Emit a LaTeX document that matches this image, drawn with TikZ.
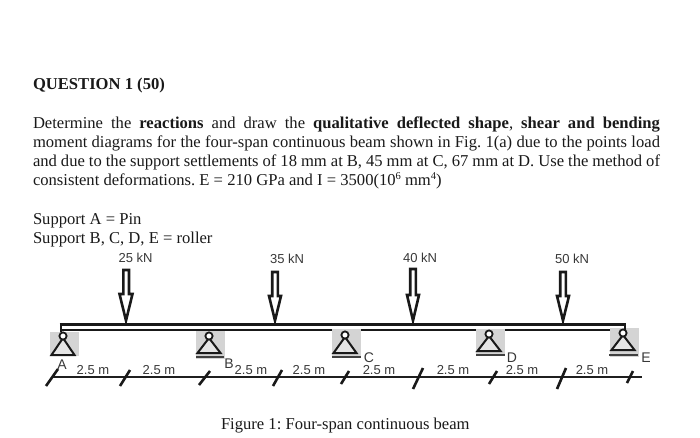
\documentclass[tikz,border=0pt]{standalone}
\usepackage{fontspec}
\setmainfont{Liberation Serif}
\setsansfont{Liberation Sans}
\tikzset{
  txt/.style={anchor=base west,inner sep=0pt,outer sep=0pt,font=\fontsize{16.6}{19}\selectfont\frenchspacing,text=black!90},
  dim/.style={inner sep=0pt,outer sep=0pt,font=\sffamily\fontsize{13}{14}\selectfont,text=black!78},
  letter/.style={inner sep=0pt,outer sep=0pt,font=\sffamily\fontsize{14}{15}\selectfont,text=black!78},
  beamline/.style={line width=3pt,black!90},
  dimline/.style={line width=2.6pt,black!88},
  ticker/.style={line width=2.6pt,black!90},
  loadarrow/.style={draw=black!90,fill=white,line width=2.6pt,line join=miter},
  suppbox/.style={fill=black!17,draw=none},
  supptri/.style={draw=black!90,line width=2pt,fill=black!10,line join=miter},
  supppin/.style={draw=black!90,line width=1.8pt,fill=white},
  suppbase/.style={line width=2pt,black!75},
  pics/support/.style args={#1/#2/#3}{code={
    % origin = pin centre; #1 = triangle base offset, #2 = box bottom offset, #3 = box top offset
    \fill[suppbox] (-13.5,#3) rectangle (15.5,#2);
    \draw[supptri] (0,2) -- (11.5,#1) -- (-11.5,#1) -- cycle;
    \draw[supppin] (0,0) circle (3.6);
  }},
}
\begin{document}
\begin{tikzpicture}[x=1pt,y=-1pt]
\useasboundingbox (0,0) rectangle (700,437);

% text block
\node[txt,font=\fontsize{16.6}{19}\selectfont\bfseries] (title) at (33,89) {QUESTION 1 (50)};
\node[txt] (l1) at (33,128) {\hbox to 627pt{Determine the \textbf{reactions} and draw the \textbf{qualitative deflected shape}, \textbf{shear and bending}}};
\node[txt] (l2) at (33,147) {\hbox to 627pt{moment diagrams for the four-span continuous beam shown in Fig. 1(a) due to the points load}};
\node[txt] (l3) at (33,166) {\hbox to 627pt{and due to the support settlements of 18 mm at B, 45 mm at C, 67 mm at D. Use the method of}};
\node[txt] (l4) at (33,185) {consistent deformations. E = 210 GPa and I = 3500(10\raisebox{6pt}{\fontsize{10.5}{10}\selectfont 6} mm\raisebox{6pt}{\fontsize{10.5}{10}\selectfont 4})};
\node[txt] (s1) at (33,224) {Support A = Pin};
\node[txt] (s2) at (33,243) {Support B, C, D, E = roller};
\node[txt] (cap) at (221,429) {Figure 1: Four-span continuous beam};

% lower beam chord (the support panels at C, D and E cover it)
\coordinate (bTL) at (59.5,324);
\coordinate (bTR) at (626,324);
\coordinate (bBL) at (61,330);
\coordinate (bBR) at (612,330);
\draw[beamline,line width=2.6pt] (bBL) -- (bBR);

% supports
\pic at (63,336) {support={19/19.5/-4.5}};
\pic at (209,336) {support={17/23/-4.6}};
\pic at (345,335) {support={18/23/-6}};
\pic at (489,334) {support={17/22/-5}};
\pic at (623,333) {support={17/24/-5}};
\draw[suppbase] (196,357) -- (224,357);
\draw[suppbase] (332,357) -- (361,357);
\draw[suppbase] (476,355) -- (505,355);
\draw[suppbase] (609,355) -- (638,355);

% upper beam chord and its ends
\draw[beamline] (bTL) -- (bTR);
\draw[beamline,line width=2.4pt] (61,323) -- (61,332);
\draw[beamline,line width=2.4pt] (625,323) -- (625,329.5);

% loads
\draw[loadarrow] (123.4,270) -- (129,270) -- (129,294) -- (132.5,294) -- (126,320.5) -- (119.5,294) -- (123.4,294) -- cycle;
\draw[loadarrow] (272.2,272) -- (277.8,272) -- (277.8,296) -- (281,296) -- (275,320.5) -- (269,296) -- (272.2,296) -- cycle;
\draw[loadarrow] (410.2,269) -- (415.8,269) -- (415.8,295) -- (419,295) -- (413,320.5) -- (407,295) -- (410.2,295) -- cycle;
\draw[loadarrow] (560.2,272) -- (565.8,272) -- (565.8,296) -- (569,296) -- (563,320.5) -- (557,296) -- (560.2,296) -- cycle;

\node[dim] (f1) at (135.5,258) {25 kN};
\node[dim] (f2) at (287,259) {35 kN};
\node[dim] (f3) at (420,258) {40 kN};
\node[dim] (f4) at (572,259) {50 kN};

% dimension line
\coordinate (dL) at (53,377);
\coordinate (dR) at (642,377);
\draw[dimline] (dL) -- (dR);
\draw[ticker] (46,386) -- (58,369);
\draw[ticker] (120,386) -- (130,370);
\draw[ticker] (199,385) -- (210,371);
\draw[ticker] (273,386) -- (282,370);
\draw[ticker] (341,384) -- (349,371);
\draw[ticker] (413,389) -- (423,368);
\draw[ticker] (489,384) -- (497,371);
\draw[ticker] (557,389) -- (566,368);
\draw[ticker] (627,383) -- (633,371);

\node[dim] (d1) at (93,370) {2.5 m};
\node[dim] (d2) at (159,370) {2.5 m};
\node[dim] (d3) at (251,370) {2.5 m};
\node[dim] (d4) at (309,370) {2.5 m};
\node[dim] (d5) at (379,370) {2.5 m};
\node[dim] (d6) at (453,370) {2.5 m};
\node[dim] (d7) at (522,370) {2.5 m};
\node[dim] (d8) at (592,370) {2.5 m};

\node[letter] (A) at (62,364.5) {A};
\node[letter] (B) at (229,364) {B};
\node[letter] (C) at (369,358) {C};
\node[letter] (D) at (512,358) {D};
\node[letter] (E) at (646,358) {E};
\end{tikzpicture}
\end{document}
